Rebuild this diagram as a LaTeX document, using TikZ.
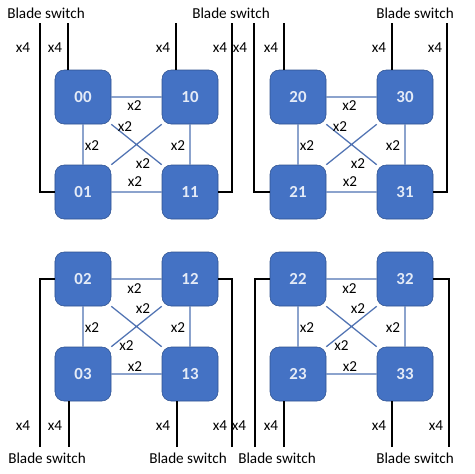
\documentclass[tikz,border=0pt]{standalone}
\usepackage{fontspec}
\setmainfont{Carlito}
\usetikzlibrary{calc,backgrounds}
\definecolor{boxblue}{RGB}{68,114,196}
\definecolor{boxedge}{RGB}{47,82,143}
\definecolor{linkblue}{RGB}{79,114,178}
\definecolor{boxtext}{RGB}{228,235,247}
\tikzset{
  blade/.style={rectangle, rounded corners=2.3mm, fill=boxblue, draw=boxedge, thin,
    minimum width=14mm, minimum height=13.5mm, inner sep=0pt, text=boxtext,
    font=\fontsize{12}{14}\selectfont\bfseries},
  link/.style={draw=linkblue, line width=0.9pt},
  uplink/.style={draw=black, line width=1.4pt},
  mult/.style={font=\fontsize{10.8}{13}\selectfont, inner sep=0pt},
  switchlabel/.style={font=\fontsize{10.8}{13}\selectfont, inner sep=0pt}
}
\begin{document}
\begin{tikzpicture}[x=0.25mm, y=-0.25mm]
\useasboundingbox (0,0) rectangle (474,474);
% blades
\node[blade] (n00) at (83,97) {00};
\node[blade] (n10) at (190,97) {10};
\node[blade] (n01) at (83,192) {01};
\node[blade] (n11) at (190,192) {11};
\node[blade] (n20) at (298,97) {20};
\node[blade] (n30) at (405,97) {30};
\node[blade] (n21) at (298,192) {21};
\node[blade] (n31) at (405,192) {31};
\node[blade] (n02) at (83,279) {02};
\node[blade] (n12) at (190,279) {12};
\node[blade] (n03) at (83,374) {03};
\node[blade] (n13) at (190,374) {13};
\node[blade] (n22) at (298,279) {22};
\node[blade] (n32) at (405,279) {32};
\node[blade] (n23) at (298,374) {23};
\node[blade] (n33) at (405,374) {33};
% x2 links inside each group
\begin{scope}[on background layer]
\foreach \a/\b/\c/\d/\u/\v/\h/\w in {00/10/01/11/-11.5/6.5/-38.5/37.5, 20/30/21/31/-11.5/6.5/-38.5/37.5,
    02/12/03/13/6.5/-10/-37.5/40.5, 22/32/23/33/6.5/-10/-37.5/40.5}{
  \coordinate (q\a) at ($(n\a)!0.5!(n\d)$);
  \draw[link] (n\a) -- (n\b) (n\c) -- (n\d) (n\a) -- (n\c) (n\b) -- (n\d)
    (n\a.south east) -- (n\d.north west) (n\b.south west) -- (n\c.north east);
  \node[mult] (top\a) at ($(q\a)+(-2,\h)$) {x2};
  \node[mult] (bot\a) at ($(q\a)+(-1.5,\w)$) {x2};
  \node[mult] (lft\a) at ($(q\a)+(-44.5,1.5)$) {x2};
  \node[mult] (rgt\a) at ($(q\a)+(41.5,1.5)$) {x2};
  \node[mult] (up\a) at ($(q\a)+(\u,-17.5)$) {x2};
  \node[mult] (dn\a) at ($(q\a)+(\v,19)$) {x2};
}
\end{scope}
% x4 uplinks to the blade switches
\coordinate (e01) at (40,23);  \coordinate (e00) at (68,23);
\coordinate (e10) at (176,23); \coordinate (e11) at (232,23);
\coordinate (e21) at (254,23); \coordinate (e20) at (284,23);
\coordinate (e30) at (392,23); \coordinate (e31) at (447,23);
\coordinate (e02) at (40,447); \coordinate (e03) at (69,447);
\coordinate (e13) at (177,447); \coordinate (e12) at (232,447);
\coordinate (e22) at (255,447); \coordinate (e23) at (284,447);
\coordinate (e33) at (392,447); \coordinate (e32) at (449,447);
\draw[uplink] (e01) |- (n01.west);
\draw[uplink] (e00) -- (e00 |- n00.north);
\draw[uplink] (e10) -- (e10 |- n10.north);
\draw[uplink] (e11) |- (n11.east);
\draw[uplink] (e21) |- (n21.west);
\draw[uplink] (e20) -- (e20 |- n20.north);
\draw[uplink] (e30) -- (e30 |- n30.north);
\draw[uplink] (e31) |- (n31.east);
\draw[uplink] (e02) |- (n02.west);
\draw[uplink] (e03) -- (e03 |- n03.south);
\draw[uplink] (e13) -- (e13 |- n13.south);
\draw[uplink] (e12) |- (n12.east);
\draw[uplink] (e22) |- (n22.west);
\draw[uplink] (e23) -- (e23 |- n23.south);
\draw[uplink] (e33) -- (e33 |- n33.south);
\draw[uplink] (e32) |- (n32.east);
\foreach \x in {23,55,163,220,240,271,379,435}
  \node[mult] (tx\x) at (\x,48) {x4};
\foreach \x in {23,55,163,220,239,271,379,436}
  \node[mult] (bx\x) at (\x,426) {x4};
% blade switch labels
\node[switchlabel] (sw1) at (46,13) {Blade switch};
\node[switchlabel] (sw2) at (231,13) {Blade switch};
\node[switchlabel] (sw3) at (415,13) {Blade switch};
\node[switchlabel] (sw4) at (47,458) {Blade switch};
\node[switchlabel] (sw5) at (188,458) {Blade switch};
\node[switchlabel] (sw6) at (277,458) {Blade switch};
\node[switchlabel] (sw7) at (415,458) {Blade switch};
\end{tikzpicture}
\end{document}
